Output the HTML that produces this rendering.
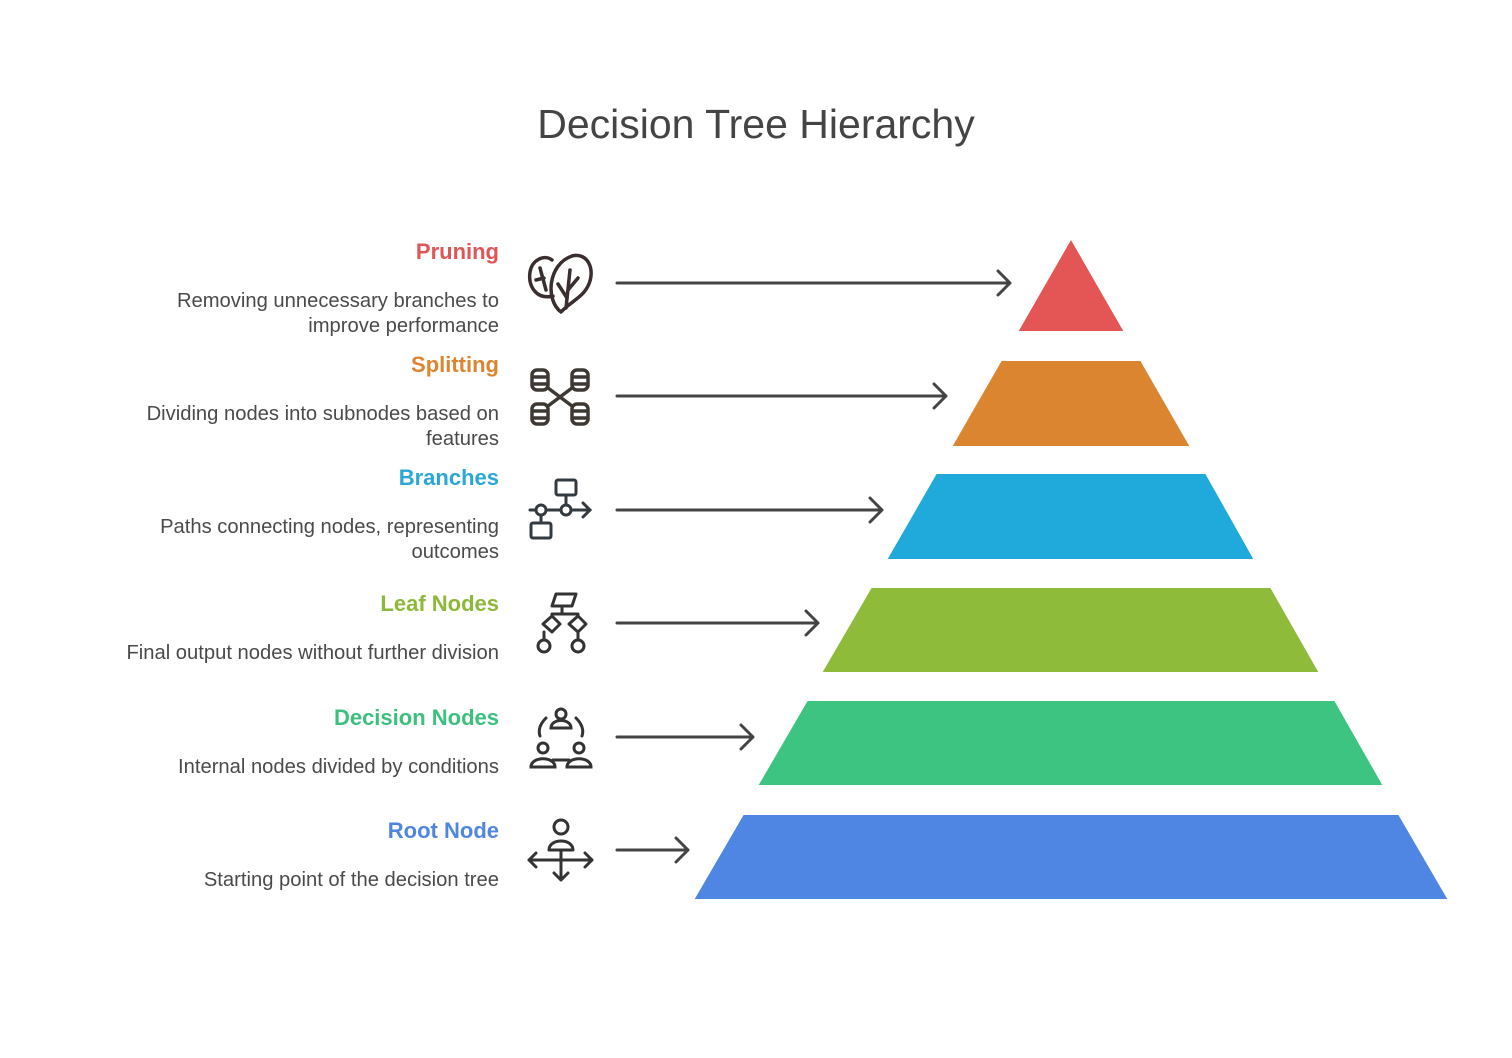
<!DOCTYPE html>
<html><head><meta charset="utf-8"><style>
body{margin:0;background:#fff;width:1512px;height:1058px;overflow:hidden;font-family:"Liberation Sans",sans-serif;}
.t{position:absolute;right:1013px;text-align:right;white-space:nowrap}
.h{font-weight:bold;font-size:22px}
.d{font-size:20.2px;color:#4a4a4a;line-height:25px}
</style></head><body>
<div style="position:absolute;left:0;width:1512px;top:101px;text-align:center;font-size:41px;color:#444">Decision Tree Hierarchy</div>

<div class="t h" style="top:239px;color:#e05656">Pruning</div>
<div class="t d" style="top:289px">Removing unnecessary branches to<br>improve performance</div>
<div class="t h" style="top:352px;color:#dc8530">Splitting</div>
<div class="t d" style="top:402px">Dividing nodes into subnodes based on<br>features</div>
<div class="t h" style="top:465px;color:#2aa7d4">Branches</div>
<div class="t d" style="top:515px">Paths connecting nodes, representing<br>outcomes</div>
<div class="t h" style="top:591px;color:#8db83a">Leaf Nodes</div>
<div class="t d" style="top:641px">Final output nodes without further division</div>
<div class="t h" style="top:705px;color:#3cc07e">Decision Nodes</div>
<div class="t d" style="top:755px">Internal nodes divided by conditions</div>
<div class="t h" style="top:818px;color:#4f86e0">Root Node</div>
<div class="t d" style="top:868px">Starting point of the decision tree</div>

<svg width="1512" height="1058" style="position:absolute;left:0;top:0">
<g stroke="#fff" stroke-width="2" stroke-linejoin="round">
<polygon points="1071,238 1017,332 1125,332" fill="#e45656"/>
<polygon points="1001,360 1141,360 1191,447 951,447" fill="#dc8530"/>
<polygon points="936,473 1206,473 1255,560 886,560" fill="#20aadb"/>
<polygon points="871,587 1271,587 1320,673 821,673" fill="#8fbb3a"/>
<polygon points="807,700 1335,700 1384,786 757,786" fill="#3dc481"/>
<polygon points="743,814 1399,814 1449,900 693,900" fill="#4f86e3"/>
</g>
<g stroke="#444" stroke-width="3" fill="none" stroke-linecap="round" stroke-linejoin="round">
<path d="M617 283H1010M998 271L1010 283L998 295"/>
<path d="M617 396H946M934 384L946 396L934 408"/>
<path d="M617 510H882M870 498L882 510L870 522"/>
<path d="M617 623H818M806 611L818 623L806 635"/>
<path d="M617 737H753M741 725L753 737L741 749"/>
<path d="M617 850H688M676 838L688 850L676 862"/>
</g>
<g stroke="#3a2e2e" stroke-width="3.5" fill="none" stroke-linecap="round" stroke-linejoin="round">
<path d="M553 296C536 300 528 286 530 272C532 260 544 254 552 260"/>
<path d="M561 312C545 300 548 264 572 256C588 252 596 270 588 286C582 298 570 302 561 312Z"/>
<path d="M566 308L570 270M568 290L578 278M567 298L558 284M540 268L546 290M536 280L544 278"/>
</g>
<g stroke="#3e3a33" stroke-width="3.5" fill="none">
<rect x="532" y="370" width="16" height="20" rx="5"/><rect x="572" y="370" width="16" height="20" rx="5"/>
<rect x="532" y="404" width="16" height="20" rx="5"/><rect x="572" y="404" width="16" height="20" rx="5"/>
<path d="M548 388L572 406M572 388L548 406M533 377H547M533 384H547M573 377H587M573 384H587M533 411H547M533 418H547M573 411H587M573 418H587"/>
</g>
<g stroke="#333b40" stroke-width="3" fill="none" stroke-linecap="round">
<rect x="556" y="480" width="20" height="15" rx="2"/><rect x="531" y="523" width="20" height="15" rx="2"/>
<circle cx="541" cy="510" r="5"/><circle cx="566" cy="510" r="5"/>
<path d="M530 510H536M546 510H561M571 510H590M583 503L590 510L583 517M566 495V505M541 515V523"/>
</g>
<g stroke="#333" stroke-width="3" fill="none" stroke-linecap="round" stroke-linejoin="round">
<path d="M556 594H576L572 606H552Z"/><path d="M562 606V614M543 624L552 616L560 624L552 632ZM569 624L578 616L586 624L578 632Z"/>
<path d="M552 616V614H578V616"/><circle cx="544" cy="646" r="6"/><circle cx="578" cy="646" r="6"/><path d="M544 632V640M578 632V640"/>
</g>
<g stroke="#333" stroke-width="3" fill="none" stroke-linecap="round">
<circle cx="561" cy="714" r="5"/><path d="M551 728C551 718 571 718 571 728Z"/>
<circle cx="543" cy="748" r="5"/><path d="M531 767C531 756 555 756 555 767Z"/>
<circle cx="579" cy="748" r="5"/><path d="M567 767C567 756 591 756 591 767Z"/>
<path d="M546 718C540 724 538 730 540 736M576 718C582 724 584 730 582 736M553 760H569"/>
</g>
<g stroke="#333" stroke-width="3" fill="none" stroke-linecap="round" stroke-linejoin="round">
<circle cx="561" cy="827" r="7"/><path d="M549 850C549 838 573 838 573 850Z"/>
<path d="M529 860H592M536 853L529 860L536 867M585 853L592 860L585 867M561 850V880M554 873L561 880L568 873"/>
</g>
</svg>
</body></html>
